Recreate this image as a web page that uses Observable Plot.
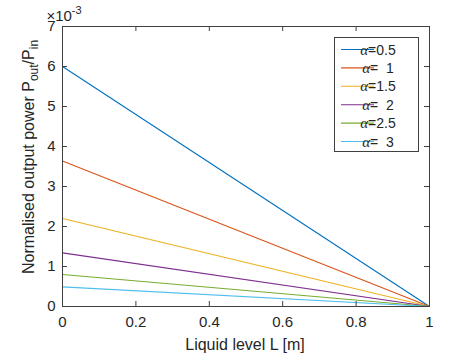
<!DOCTYPE html>
<html><head><meta charset="utf-8">
<script src="https://cdn.jsdelivr.net/npm/d3@7"></script>
<script src="https://cdn.jsdelivr.net/npm/@observablehq/plot@0.6"></script>
<style>
body{margin:0;background:#fff}
svg{font-family:"Liberation Sans",Arial,Helvetica,sans-serif}
</style>
</head><body><div id="chart"></div>
<script>
const alphaValues = ["0.5", "  1", "1.5", "  2", "2.5", "  3"];
const alphaLabels = alphaValues.map(v => "α=" + v);
const levelStart = 0;
const levelEnd = 1;
const powerAtStart = [6.0e-3, 3.64e-3, 2.2e-3, 1.34e-3, 0.8e-3, 0.49e-3];
const powerAtEnd = [0, 0, 0, 0, 0, 0];
const seriesColors = ["#0072BD", "#D95319", "#EDB120", "#7E2F8E", "#77AC30", "#4DBEEE"];
const xTicks = [0, 0.2, 0.4, 0.6, 0.8, 1];
const yTicks = [0, 1, 2, 3, 4, 5, 6, 7].map(d => d * 1e-3);
const xLabel = "Liquid level L [m]";

const data = alphaLabels.flatMap((a, i) => [
  {L: levelStart, P: powerAtStart[i], alpha: a},
  {L: levelEnd, P: powerAtEnd[i], alpha: a}
]);

const W = 474, H = 355;
const mL = 62, mR = 45, mT = 26, mB = 49;
const innerW = W - mL - mR, innerH = H - mT - mB;
const axisColor = "#404040";
const tfs = 15;

const plot = Plot.plot({
  width: W, height: H,
  marginLeft: mL, marginRight: mR, marginTop: mT, marginBottom: mB,
  style: {fontSize: tfs + "px", color: "#262626", background: "#fff"},
  x: {domain: [0, 1], ticks: xTicks},
  y: {domain: [0, 7e-3], ticks: yTicks},
  color: {domain: alphaLabels, range: seriesColors},
  marks: [
    Plot.line(data, {x: "L", y: "P", z: "alpha", stroke: "alpha", strokeWidth: 1.1}),
    // inward ticks on all four sides
    Plot.tickX(xTicks, {x: d => d, insetTop: innerH - 5, stroke: axisColor}),
    Plot.tickX(xTicks, {x: d => d, insetBottom: innerH - 5, stroke: axisColor}),
    Plot.tickY(yTicks, {y: d => d, insetRight: innerW - 5, stroke: axisColor}),
    Plot.tickY(yTicks, {y: d => d, insetLeft: innerW - 5, stroke: axisColor}),
    Plot.frame({stroke: axisColor, strokeWidth: 1}),
    Plot.axisX(xTicks, {anchor: "bottom", tickSize: 0, tickPadding: 10, fill: "#262626", tickFormat: d => String(d), label: null, fontSize: tfs}),
    Plot.axisY(yTicks, {anchor: "left", tickSize: 0, tickPadding: 7, fill: "#262626", tickFormat: d => String(Math.round(d * 1000)), label: null, fontSize: tfs})
  ]
});

document.getElementById("chart").appendChild(plot);
const svg = d3.select(plot);

// x axis label
svg.append("text").attr("x", 245).attr("y", 350).attr("text-anchor", "middle")
  .attr("fill", "#262626").style("font-size", "16px").text(xLabel);

// y axis label with subscripts
const yl = svg.append("text").attr("transform", "translate(33.5,157) rotate(-90)")
  .attr("text-anchor", "middle").attr("fill", "#262626").style("font-size", "16px");
yl.append("tspan").text("Normalised output power P");
yl.append("tspan").attr("dy", 4).style("font-size", "12px").text("out");
yl.append("tspan").attr("dy", -4).text("/P");
yl.append("tspan").attr("dy", 4).style("font-size", "12px").text("in");

// exponent
const ex = svg.append("text").attr("x", 64).attr("y", 21).attr("fill", "#262626").style("font-size", tfs + "px");
ex.append("tspan").text("×10");
ex.append("tspan").attr("dy", -7).style("font-size", "11px").text("-3");

// legend
const lg = svg.append("g");
lg.append("rect").attr("x", 334.5).attr("y", 37.5).attr("width", 84).attr("height", 114)
  .attr("fill", "#fff").attr("stroke", axisColor);
alphaValues.forEach((v, i) => {
  const y = 49.5 + i * 18.4;
  lg.append("line").attr("x1", 341).attr("x2", 374).attr("y1", y).attr("y2", y)
    .attr("stroke", seriesColors[i]).attr("stroke-width", 1.1);
  const t = lg.append("text").attr("x", 378).attr("y", y + 5).attr("fill", "#262626")
    .style("font-size", "14px").attr("xml:space", "preserve").style("white-space", "pre");
  t.append("tspan").style("font-family", "'Liberation Serif',serif").style("font-style", "italic").style("font-size", "15px").text("α");
  t.append("tspan").text("=" + v);
});
</script>
</body></html>
